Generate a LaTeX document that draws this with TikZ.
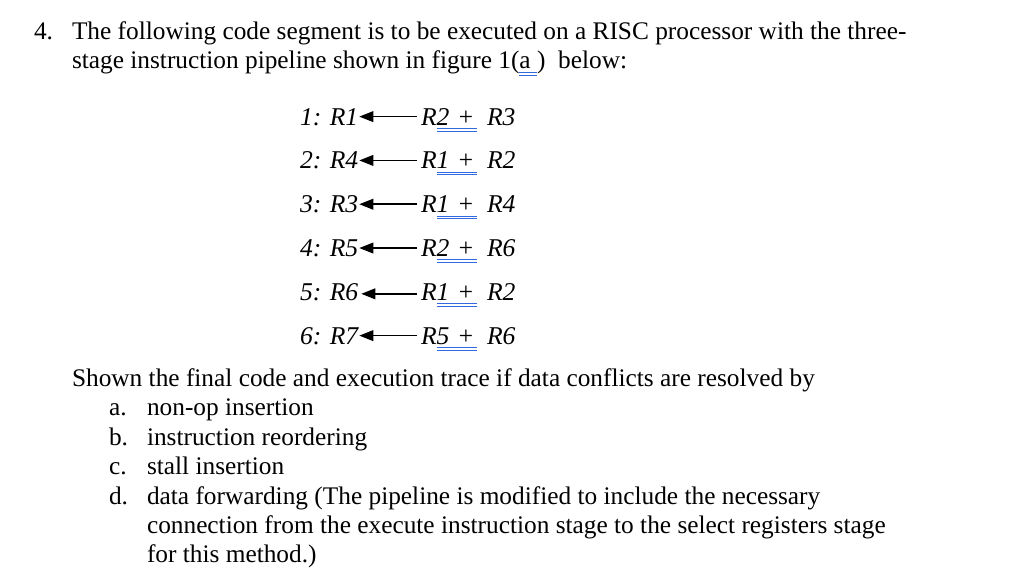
\documentclass[tikz,border=0pt]{standalone}
\usepackage{fontspec}
\setmainfont{Liberation Serif}
\usetikzlibrary{arrows.meta,calc}
\definecolor{gramblue}{RGB}{50,105,225}
\begin{document}
\begin{tikzpicture}[x=0.75pt,y=-0.75pt,
  txt/.style={anchor=base west,inner sep=0pt,outer sep=0pt,font=\fontsize{19}{22}\selectfont},
  code/.style={txt,font=\fontsize{19.2}{22}\selectfont\itshape},
  uline/.style={draw=gramblue,line width=0.75pt},
  larrow/.style={-{Triangle[length=10.5pt,width=8pt]},line width=1.2pt}]
\useasboundingbox (0,0) rectangle (1034,575);
% heading
\node[txt] (n4) at (34,39) {4.};
\node[txt] (t1) at (72,39) {The following code segment is to be executed on a RISC processor with the three-};
\node[txt] (t2a) at (72,68.5) {stage instruction pipeline shown in figure 1(};
\node[txt] (t2b) at (t2a.base east) {a\ \null};
\node[txt] (t2c) at (t2b.base east) {)\ \ below:};
\draw[uline] ($(t2b.base west)+(0,4)$) -- ($(t2b.base east)+(0,4)$);
\draw[uline] ($(t2b.base west)+(0,6.5)$) -- ($(t2b.base east)+(0,6.5)$);
% code
\foreach \i/\yy/\dst/\sa/\sb/\off in {1/125/R1/2/R3/0, 2/168.8/R4/1/R2/0, 3/212.6/R3/1/R4/0, 4/256.4/R5/2/R6/0, 5/300.2/R6/1/R2/2, 6/344/R7/5/R6/0}{
  \node[code] (l\i) at (300,\yy) {\i: \dst};
  \node[code] (rr\i) at (421,\yy) {R};
  \node[code] (d\i) at (rr\i.base east) {\sa};
  \node[code] (p\i) at (457,\yy) {+};
  \node[code] (s\i) at (487,\yy) {\sb};
  \draw[larrow] ($(rr\i.west)+(-4,\off)$) -- ($(l\i.east |- rr\i.west)+(1+\off,\off)$);
  \draw[uline] ($(d\i.base west)+(0,3.5)$) -- ($(p\i.base east)+(3,3.5)$);
  \draw[uline] ($(d\i.base west)+(0,6)$) -- ($(p\i.base east)+(3,6)$);
}
% question
\node[txt] (q) at (72,386) {Shown the final code and execution trace if data conflicts are resolved by};
\node[txt] (la) at (109,415.5) {a.};
\node[txt] (ta) at (147,415.5) {non-op insertion};
\node[txt] (lb) at (109,445) {b.};
\node[txt] (tb) at (147,445) {instruction reordering};
\node[txt] (lc) at (109,474) {c.};
\node[txt] (tc) at (147,474) {stall insertion};
\node[txt] (ld) at (109,504) {d.};
\node[txt] (td1) at (147,504) {data forwarding (The pipeline is modified to include the necessary};
\node[txt] (td2) at (147,533) {connection from the execute instruction stage to the select registers stage};
\node[txt] (td3) at (147,562.5) {for this method.)};
\end{tikzpicture}
\end{document}
